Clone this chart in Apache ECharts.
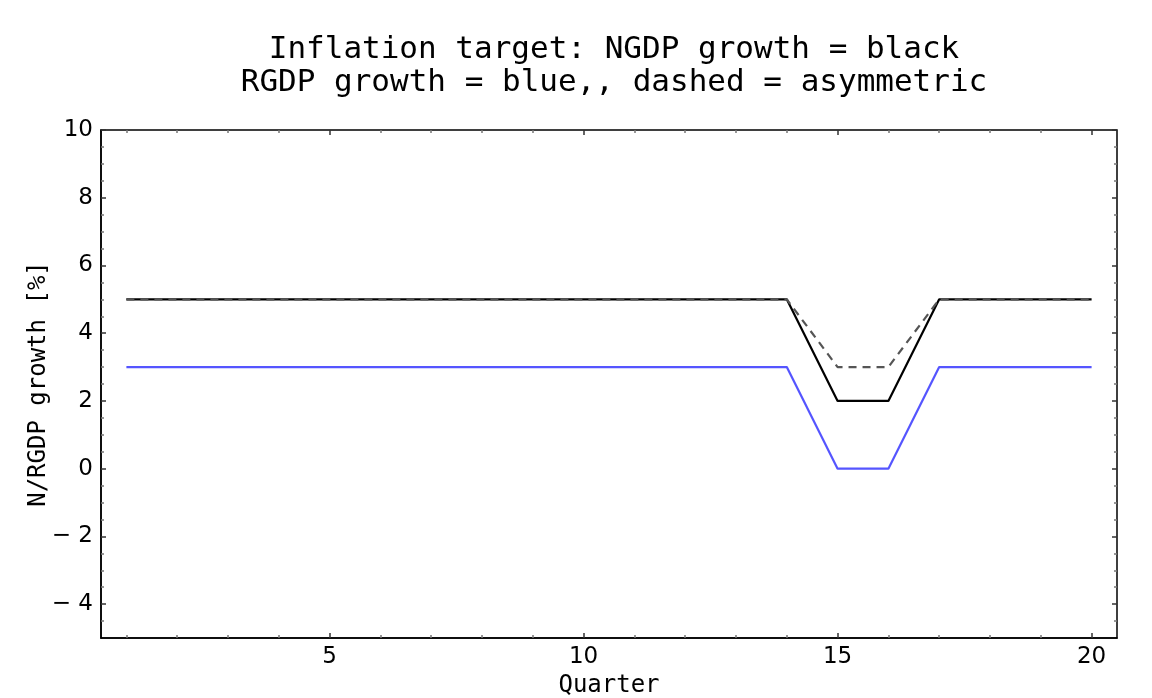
<!DOCTYPE html>
<html>
<head>
    <meta charset="UTF-8">
    <title>Inflation target: NGDP vs RGDP growth</title>
    <script src="https://cdn.jsdelivr.net/npm/echarts@6/dist/echarts.min.js"></script>
</head>
<body style="margin: 0; overflow: hidden; background: #fff;">
<div id="main" style="width: 1152px; height: 698px;"></div>
<script type="text/javascript">
    // data
    var quarters = [1, 2, 3, 4, 5, 6, 7, 8, 9, 10, 11, 12, 13, 14, 15, 16, 17, 18, 19, 20];
    var ngdpGrowth = [5, 5, 5, 5, 5, 5, 5, 5, 5, 5, 5, 5, 5, 5, 2, 2, 5, 5, 5, 5];
    var rgdpGrowth = [3, 3, 3, 3, 3, 3, 3, 3, 3, 3, 3, 3, 3, 3, 0, 0, 3, 3, 3, 3];
    var asymGrowth = [5, 5, 5, 5, 5, 5, 5, 5, 5, 5, 5, 5, 5, 5, 3, 3, 5, 5, 5, 5];
    var xMajorTicks = [5, 10, 15, 20];
    var xMinorTicks = [1, 2, 3, 4, 6, 7, 8, 9, 11, 12, 13, 14, 16, 17, 18, 19];
    var yMajorTicks = [-4, -2, 0, 2, 4, 6, 8, 10];
    var yMinorTicks = [-4.5, -3.5, -3, -2.5, -1.5, -1, -0.5, 0.5, 1, 1.5, 2.5, 3, 3.5,
        4.5, 5, 5.5, 6.5, 7, 7.5, 8.5, 9, 9.5];

    function pairs(ys) {
        return quarters.map(function (q, i) { return [q, ys[i]]; });
    }

    var mono = '"DejaVu Sans Mono", "Liberation Mono", monospace';
    var sans = '"DejaVu Sans", "Liberation Sans", sans-serif';

    function xAx(pos, ticks, len, color, withLabel) {
        return {
            type: 'value', position: pos, min: 0.5, max: 20.5,
            axisLine: {show: withLabel, onZero: false, lineStyle: {color: '#000', width: 1.5}},
            axisTick: {show: true, inside: true, length: len, customValues: ticks,
                lineStyle: {color: color, width: 1.5}},
            axisLabel: {show: withLabel, customValues: ticks, color: '#000',
                fontFamily: sans, fontSize: 23, margin: 8},
            splitLine: {show: false}
        };
    }

    function yAx(pos, ticks, len, color, withLabel) {
        return {
            type: 'value', position: pos, min: -5, max: 10,
            axisLine: {show: withLabel, onZero: false, lineStyle: {color: '#000', width: 1.5}},
            axisTick: {show: true, inside: true, length: len, customValues: ticks,
                lineStyle: {color: color, width: 1.5}},
            axisLabel: {show: withLabel, customValues: ticks, color: '#000',
                fontFamily: sans, fontSize: 23, margin: 8,
                formatter: function (v) { return v < 0 ? '\u2212 ' + Math.abs(v) : String(v); }},
            splitLine: {show: false}
        };
    }

    var xMain = xAx('bottom', xMajorTicks, 5, '#333', true);
    xMain.name = 'Quarter';
    xMain.nameLocation = 'middle';
    xMain.nameGap = 36;
    xMain.nameMoveOverlap = false;
    xMain.nameTextStyle = {fontFamily: mono, fontSize: 24, color: '#000'};

    var yMain = yAx('left', yMajorTicks, 5, '#333', true);
    yMain.name = 'N/RGDP growth [%]';
    yMain.nameLocation = 'middle';
    yMain.nameGap = 50;
    yMain.nameMoveOverlap = false;
    yMain.nameTextStyle = {fontFamily: mono, fontSize: 24, color: '#000'};

    var chart = echarts.init(document.getElementById('main'));
    chart.setOption({
        backgroundColor: '#fff',
        animation: false,
        title: {
            text: 'Inflation target: NGDP growth = black\nRGDP growth = blue,, dashed = asymmetric',
            left: 609,
            textAlign: 'center',
            top: 28,
            textStyle: {fontFamily: mono, fontSize: 31, fontWeight: 'normal', color: '#000', lineHeight: 33}
        },
        grid: {left: 101, top: 130, right: 35, bottom: 60, containLabel: false, outerBoundsMode: 'none',
            show: true, borderColor: '#000', borderWidth: 1.5, backgroundColor: 'transparent'},
        xAxis: [
            xMain,
            xAx('bottom', xMinorTicks, 3, '#777', false),
            xAx('top', xMajorTicks, 5, '#333', false),
            xAx('top', xMinorTicks, 3, '#777', false)
        ],
        yAxis: [
            yMain,
            yAx('left', yMinorTicks, 3, '#777', false),
            yAx('right', yMajorTicks, 5, '#333', false),
            yAx('right', yMinorTicks, 3, '#777', false)
        ],
        series: [
            {
                name: 'NGDP growth', type: 'line', data: pairs(ngdpGrowth),
                showSymbol: false, lineStyle: {color: '#000', width: 2.2}
            },
            {
                name: 'RGDP growth', type: 'line', data: pairs(rgdpGrowth),
                showSymbol: false, lineStyle: {color: '#5555ff', width: 2.2}
            },
            {
                name: 'asymmetric', type: 'line', data: pairs(asymGrowth),
                showSymbol: false, lineStyle: {color: '#555', width: 2.2, type: [8, 6]}
            }
        ]
    });
</script>
</body>
</html>
